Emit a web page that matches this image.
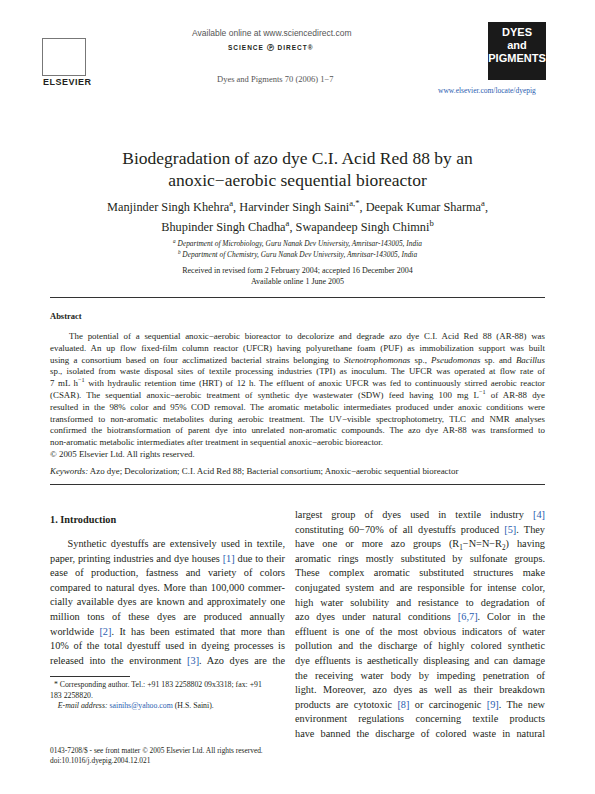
<!DOCTYPE html>
<html><head><meta charset="utf-8">
<script src="https://cdn.jsdelivr.net/npm/chart.js@4"></script>
<style>
body{margin:0;width:595px;height:794px;background:#fff;font-family:"Liberation Serif",serif;color:#231f20;position:relative;overflow:hidden}
.a{position:absolute}
sup,sub{line-height:0;font-size:70%}
.jl div{text-align:justify;text-align-last:justify;white-space:nowrap}
.jl div.e{text-align-last:left}
.ab{font-size:8.9px;line-height:11.8px}
.col{font-size:10.3px;line-height:14.6px}
a{color:#2a5db0;text-decoration:none}
</style></head><body>
<div class="a" style="left:42px;top:38px;width:42px;height:36px;border:1px solid #777"></div>
<div class="a" style="left:43px;top:77px;font:bold 9px 'Liberation Sans';letter-spacing:0.5px">ELSEVIER</div>
<div class="a" style="left:192px;top:28px;font:8.5px 'Liberation Sans';color:#555">Available online at www.sciencedirect.com</div>
<div class="a" style="left:228px;top:44px;font:bold 6.5px 'Liberation Sans';letter-spacing:1px">SCIENCE &#9413; DIRECT&reg;</div>
<div class="a" style="left:217px;top:74px;font-size:8.5px;color:#555">Dyes and Pigments 70 (2006) 1&minus;7</div>
<div class="a" style="left:488px;top:22px;width:58px;height:54px;background:#1a1a1a;color:#fff;font:bold 11px 'Liberation Sans';line-height:13px;text-align:center;padding-top:4px">DYES<br>and<br>PIGMENTS</div>
<div class="a" style="left:438px;top:86px;font-size:7.5px"><a>www.elsevier.com/locate/dyepig</a></div>
<div class="a" style="left:0;top:147px;width:595px;text-align:center;font-size:17.5px;line-height:22px">Biodegradation of azo dye C.I. Acid Red 88 by an<br>anoxic&minus;aerobic sequential bioreactor</div>
<div class="a" style="left:0;top:197px;width:595px;text-align:center;font-size:12.3px;line-height:20px">Manjinder Singh Khehra<sup>a</sup>, Harvinder Singh Saini<sup>a,*</sup>, Deepak Kumar Sharma<sup>a</sup>,<br>Bhupinder Singh Chadha<sup>a</sup>, Swapandeep Singh Chimni<sup>b</sup></div>
<div class="a" style="left:0;top:238px;width:595px;text-align:center;font-size:7.4px;line-height:11px;font-style:italic"><sup>a</sup> Department of Microbiology, Guru Nanak Dev University, Amritsar-143005, India<br><sup>b</sup> Department of Chemistry, Guru Nanak Dev University, Amritsar-143005, India</div>
<div class="a" style="left:0;top:265px;width:595px;text-align:center;font-size:8px;line-height:11px">Received in revised form 2 February 2004; accepted 16 December 2004<br>Available online 1 June 2005</div>
<div class="a" style="left:50px;top:297px;width:495px;border-top:0.6px solid #333"></div>
<div class="a" style="left:50px;top:311px;font:bold 8.5px 'Liberation Serif'">Abstract</div>
<div class="a ab jl" style="left:50px;top:331px;width:495px">
<div>&nbsp;&nbsp;&nbsp;&nbsp;The potential of a sequential anoxic&minus;aerobic bioreactor to decolorize and degrade azo dye C.I. Acid Red 88 (AR-88) was</div>
<div>evaluated. An up flow fixed-film column reactor (UFCR) having polyurethane foam (PUF) as immobilization support was built</div>
<div>using a consortium based on four acclimatized bacterial strains belonging to <i>Stenotrophomonas</i> sp., <i>Pseudomonas</i> sp. and <i>Bacillus</i></div>
<div>sp., isolated from waste disposal sites of textile processing industries (TPI) as inoculum. The UFCR was operated at flow rate of</div>
<div>7 mL h<sup>&minus;1</sup> with hydraulic retention time (HRT) of 12 h. The effluent of anoxic UFCR was fed to continuously stirred aerobic reactor</div>
<div>(CSAR). The sequential anoxic&minus;aerobic treatment of synthetic dye wastewater (SDW) feed having 100 mg L<sup>&minus;1</sup> of AR-88 dye</div>
<div>resulted in the 98% color and 95% COD removal. The aromatic metabolic intermediates produced under anoxic conditions were</div>
<div>transformed to non-aromatic metabolites during aerobic treatment. The UV&minus;visible spectrophotometry, TLC and NMR analyses</div>
<div>confirmed the biotransformation of parent dye into unrelated non-aromatic compounds. The azo dye AR-88 was transformed to</div>
<div class="e">non-aromatic metabolic intermediates after treatment in sequential anoxic&minus;aerobic bioreactor.</div>
<div class="e">&copy; 2005 Elsevier Ltd. All rights reserved.</div>
</div>
<div class="a ab" style="left:50px;top:466px"><i>Keywords:</i> Azo dye; Decolorization; C.I. Acid Red 88; Bacterial consortium; Anoxic&minus;aerobic sequential bioreactor</div>
<div class="a" style="left:50px;top:484px;width:495px;border-top:0.6px solid #333"></div>
<div class="a" style="left:50px;top:514px;font:bold 10.3px 'Liberation Serif'">1. Introduction</div>
<div class="a col jl" style="left:50px;top:537px;width:235px">
<div>&nbsp;&nbsp;&nbsp;&nbsp;Synthetic dyestuffs are extensively used in textile,</div>
<div>paper, printing industries and dye houses <a>[1]</a> due to their</div>
<div>ease of production, fastness and variety of colors</div>
<div>compared to natural dyes. More than 100,000 commer-</div>
<div>cially available dyes are known and approximately one</div>
<div>million tons of these dyes are produced annually</div>
<div>worldwide <a>[2]</a>. It has been estimated that more than</div>
<div>10% of the total dyestuff used in dyeing processes is</div>
<div>released into the environment <a>[3]</a>. Azo dyes are the</div>
</div>
<div class="a" style="left:50px;top:676px;width:80px;border-top:0.6px solid #333"></div>
<div class="a" style="left:50px;top:680px;width:235px;font-size:7.8px;line-height:10.5px">&nbsp;&nbsp;* Corresponding author. Tel.: +91 183 2258802 09x3318; fax: +91<br>183 2258820.<br>&nbsp;&nbsp;&nbsp;&nbsp;<i>E-mail address:</i> <a>sainihs@yahoo.com</a> (H.S. Saini).</div>
<div class="a" style="left:50px;top:746px;font-size:7.4px;line-height:10px">0143-7208/$ - see front matter &copy; 2005 Elsevier Ltd. All rights reserved.<br>doi:10.1016/j.dyepig.2004.12.021</div>
<div class="a col jl" style="left:295px;top:508px;width:250px">
<div>largest group of dyes used in textile industry <a>[4]</a></div>
<div>constituting 60&minus;70% of all dyestuffs produced <a>[5]</a>. They</div>
<div>have one or more azo groups (R<sub>1</sub>&minus;N=N&minus;R<sub>2</sub>) having</div>
<div>aromatic rings mostly substituted by sulfonate groups.</div>
<div>These complex aromatic substituted structures make</div>
<div>conjugated system and are responsible for intense color,</div>
<div>high water solubility and resistance to degradation of</div>
<div>azo dyes under natural conditions <a>[6,7]</a>. Color in the</div>
<div>effluent is one of the most obvious indicators of water</div>
<div>pollution and the discharge of highly colored synthetic</div>
<div>dye effluents is aesthetically displeasing and can damage</div>
<div>the receiving water body by impeding penetration of</div>
<div>light. Moreover, azo dyes as well as their breakdown</div>
<div>products are cytotoxic <a>[8]</a> or carcinogenic <a>[9]</a>. The new</div>
<div>environment regulations concerning textile products</div>
<div>have banned the discharge of colored waste in natural</div>
</div>
</body></html>
